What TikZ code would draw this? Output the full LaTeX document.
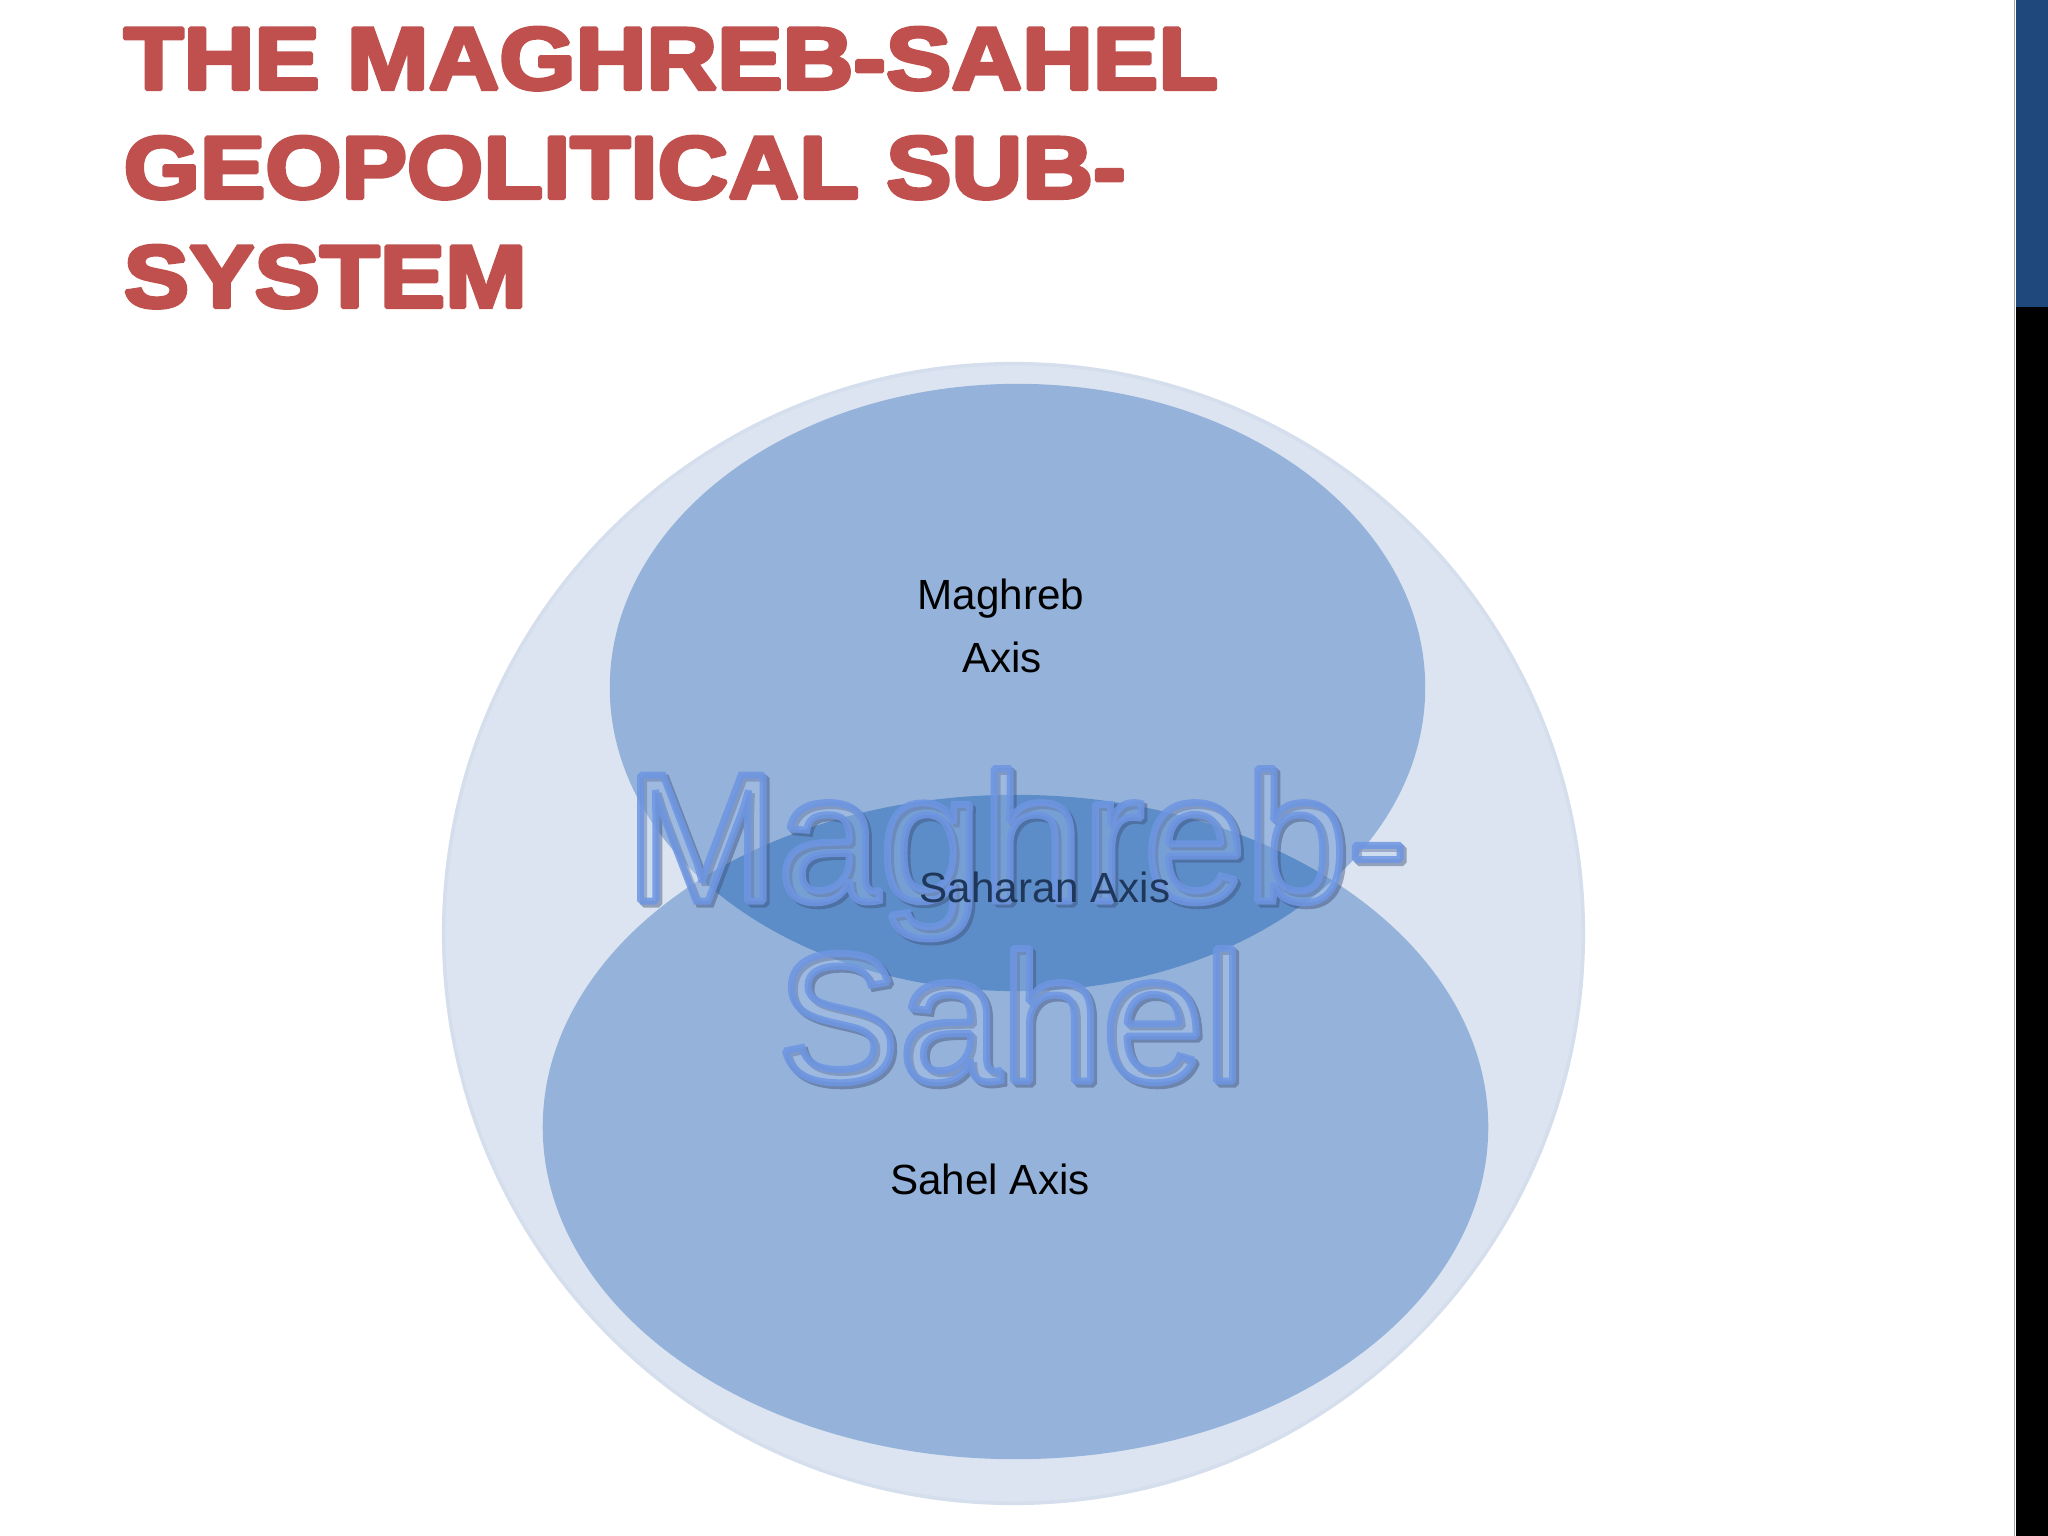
\documentclass[tikz,border=0pt]{standalone}
\usepackage{fontspec}
\setmainfont{Liberation Sans}
\newfontfamily\titlefont{Liberation Sans}[FakeBold=4.6, FakeStretch=1.115]
\newfontfamily\wmfont{Liberation Sans}[FakeBold=3.8]
\usetikzlibrary{calc}
\definecolor{barblue}{RGB}{31,73,125}
\definecolor{titlered}{RGB}{192,80,77}
\definecolor{outerfill}{RGB}{219,228,240}
\definecolor{outerrim}{RGB}{212,222,236}
\definecolor{ellfill}{RGB}{149,179,218}
\definecolor{overlapfill}{RGB}{93,141,200}
\definecolor{wmfill}{RGB}{178,202,240}
\definecolor{wmshadow}{RGB}{60,80,120}
\definecolor{saharancol}{RGB}{30,55,90}
\newcommand{\wmstroke}{\special{pdf:literal direct 0.43 0.59 0.89 RG 1.4 M}}
\newcommand{\wmshadowstroke}{\special{pdf:literal direct 0.24 0.31 0.47 RG 1.4 M}}
\newcommand{\miterfix}{\special{pdf:literal direct 1.4 M}}
\tikzset{
  titletext/.style={font=\titlefont\bfseries\fontsize{25}{30}\selectfont, text=titlered, inner sep=0pt, anchor=base west},
  lbl/.style={font=\fontsize{12}{14}\selectfont, inner sep=0pt, anchor=base},
  wm/.style={font=\wmfont\fontsize{52}{52}\selectfont, inner sep=0pt, anchor=base}
}
\begin{document}
\begin{tikzpicture}[x=0.01cm,y=-0.01cm]
\useasboundingbox (0,0) rectangle (2048,1536);
\fill[white] (0,0) rectangle (2048,1536);
% right bar
\fill[barblue] (2016,0) rectangle (2048,307);
\fill[black] (2016,307) rectangle (2048,1536);
\draw[gray!70, line width=0.5pt] (2014.5,0) -- (2014.5,1536);
% title
\node[titletext] (t1) at (123,89) {\miterfix THE MAGHREB-SAHEL};
\node[titletext] (t2) at (123,198) {\miterfix GEOPOLITICAL SUB-};
\node[titletext] (t3) at (123,307) {\miterfix SYSTEM};
% outer circle
\filldraw[fill=outerfill, draw=outerrim, line width=1pt] (1013.5,933.5) circle [radius=5.695cm];
% ellipses
\fill[ellfill] (1017.5,687.5) ellipse [x radius=4.075cm, y radius=3.035cm];
\fill[ellfill] (1015.5,1127) ellipse [x radius=4.725cm, y radius=3.32cm];
\begin{scope}
  \clip (1017.5,687.5) ellipse [x radius=4.075cm, y radius=3.035cm];
  \fill[overlapfill] (1015.5,1127) ellipse [x radius=4.725cm, y radius=3.32cm];
\end{scope}
% watermark: shadow
\begin{scope}[fill opacity=0, draw opacity=0.45]
  \node[wm, text=wmshadow] (wmsa) at (1020,904) {\wmshadowstroke Maghreb-};
  \node[wm, text=wmshadow] (wmsb) at (1014,1084) {\wmshadowstroke Sahel};
\end{scope}
% watermark: main
\begin{scope}[fill opacity=0.3, draw opacity=0.85]
  \node[wm, text=wmfill] (wma) at (1017,901) {\wmstroke Maghreb-};
  \node[wm, text=wmfill] (wmb) at (1011,1081) {\wmstroke Sahel};
\end{scope}
% labels
\node[lbl] (maghreb1) at (1001,609) {Maghreb};
\node[lbl] (maghreb2) at (1002,672) {Axis};
\node[lbl, text=saharancol] (saharan) at (1045,902) {Saharan Axis};
\node[lbl] (sahel) at (990,1194) {Sahel Axis};
\end{tikzpicture}
\end{document}
